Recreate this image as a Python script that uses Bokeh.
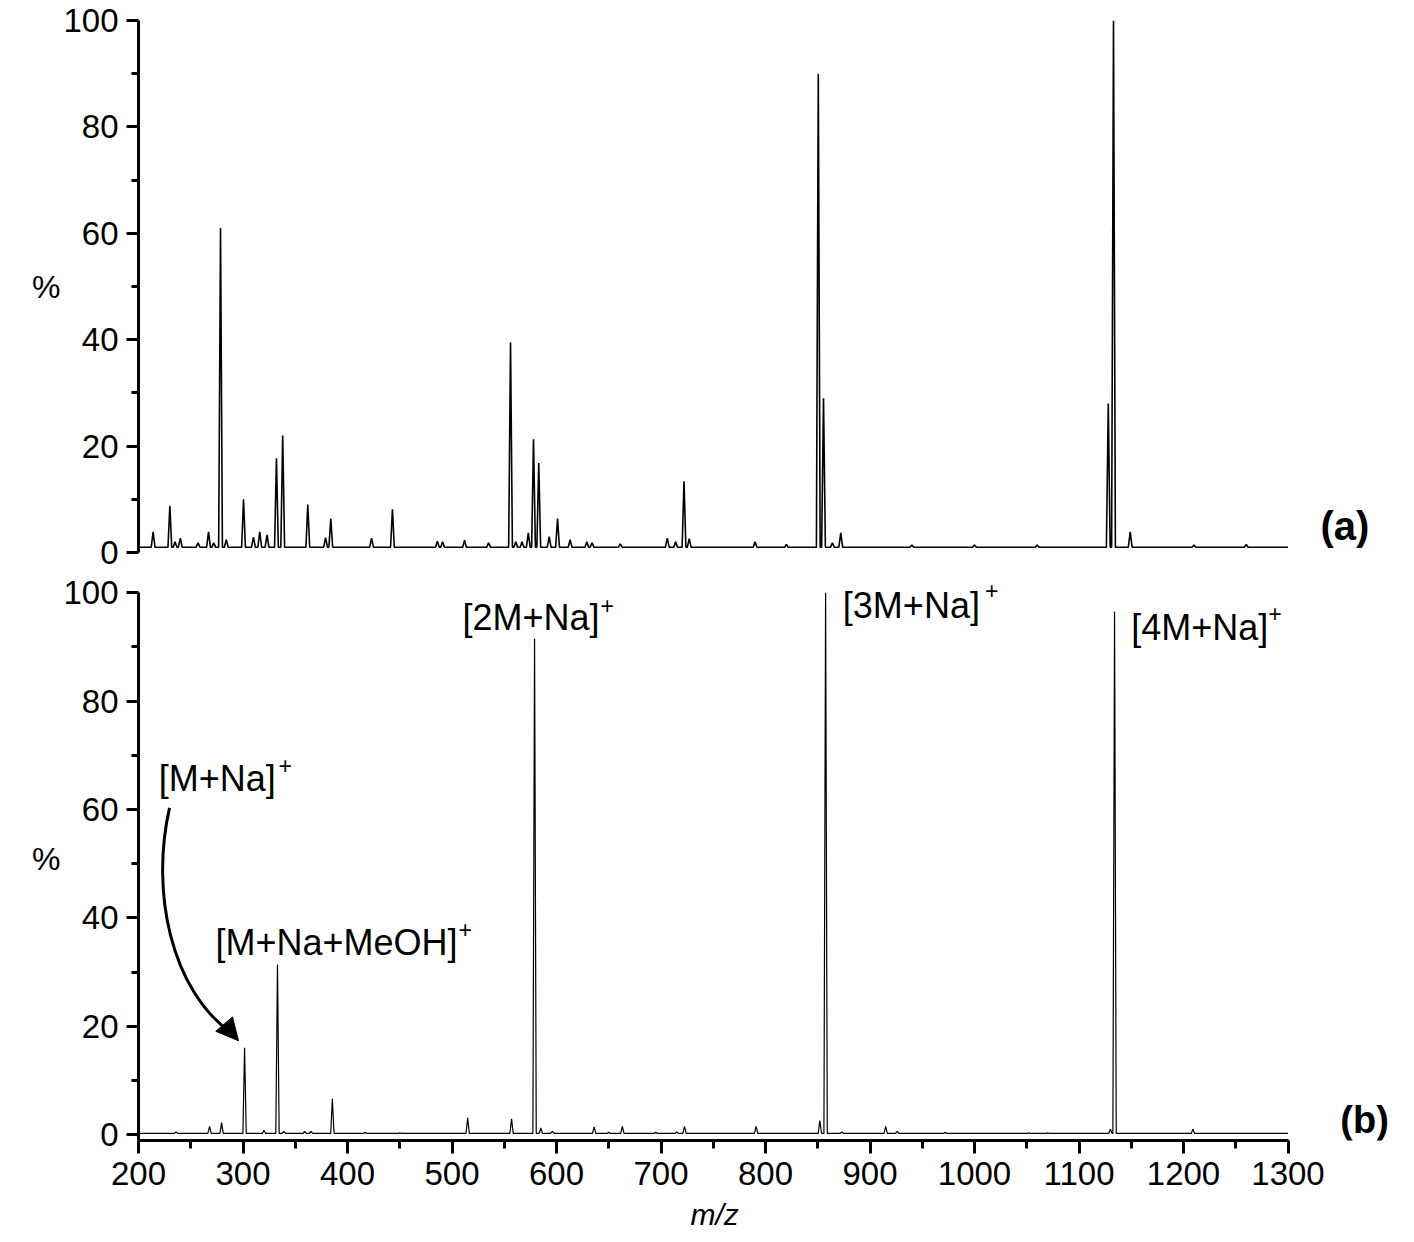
from bokeh.plotting import figure
from bokeh.layouts import column
from bokeh.models import Label, Arrow, NormalHead, FixedTicker, Range1d, Title
from bokeh.embed import file_html
from bokeh.resources import INLINE

FONT = "Liberation Sans"

# ---------------- data ----------------
x_major = [200, 300, 400, 500, 600, 700, 800, 900, 1000, 1100, 1200, 1300]
x_minor = [250, 350, 450, 550, 650, 750, 850, 950, 1050, 1150, 1250]
y_major = [0, 20, 40, 60, 80, 100]
y_minor = [10, 30, 50, 70, 90]

# panel (a): peak m/z and relative intensity (%)
a_mz = [214, 230, 235, 240, 257, 267, 272, 278.5, 284, 300.5, 310, 316, 323, 332, 338,
        362, 379, 384, 423, 443, 486, 491, 512, 535, 556, 561, 567, 573, 578, 583,
        593, 601, 613, 629, 634, 661, 706, 714, 722, 727, 790, 820, 850.5, 855.5,
        864, 872, 940, 1000, 1060, 1128, 1133, 1149, 1210, 1260]
a_int = [3.9, 8.8, 2.0, 2.7, 1.8, 3.9, 1.8, 61.0, 2.4, 10.0, 2.9, 3.9, 3.3, 17.7, 22.0,
         9.0, 2.8, 6.4, 2.7, 8.1, 2.1, 2.0, 2.3, 1.8, 39.5, 2.0, 2.0, 3.7, 21.3, 16.8,
         3.0, 6.4, 2.4, 2.0, 1.8, 1.6, 2.7, 2.0, 13.4, 2.6, 2.0, 1.5, 90.0, 29.0,
         1.8, 3.7, 1.4, 1.4, 1.4, 28.0, 100.0, 3.9, 1.4, 1.5]
a_base = 1.0

# panel (b)
b_mz = [236, 268, 279.5, 301.5, 320, 333, 339, 359, 365, 385.5, 417, 450, 515, 557,
        579, 585, 596, 636, 650, 663, 695, 715, 722.5, 791, 852, 857.5, 873, 915,
        926, 972, 1052, 1070, 1130, 1134, 1209]
b_int = [0.5, 1.5, 2.2, 16.0, 0.8, 31.4, 0.6, 0.6, 0.6, 6.6, 0.4, 0.3, 3.1, 2.9,
         91.5, 1.2, 0.6, 1.4, 0.4, 1.5, 0.4, 0.5, 1.5, 1.5, 2.6, 100.0, 0.5, 1.5,
         0.6, 0.4, 0.3, 0.3, 1.0, 96.5, 1.0]
b_base = 0.2

# annotations: (text, x, y, superscript x, superscript y)
ann_text = ["[2M+Na]", "[3M+Na]", "[4M+Na]", "[M+Na]", "[M+Na+MeOH]"]
ann_x = [510, 874, 1150, 219.4, 273.7]
ann_y = [95.4, 97.6, 93.5, 65.7, 35.4]
sup_x = [642.0, 1010.0, 1281, 334, 506.2]
sup_y = [97.6, 100.4, 96.1, 68.2, 37.8]

# curved arrow (m/z, %)
arr_p0 = (229.7, 60.3)
arr_c0 = (211.5, 45.0)
arr_c1 = (230.6, 26.6)
arr_p1 = (289.9, 18.6)
arr_tip = (295.7, 17.3)

X_LO, X_HI, X_VIEW = 200, 1300, 1417.2


def spectrum(mz, inten, base, w, lo=X_LO, hi=X_HI):
    xs, ys = [lo], [base]
    for m, h in sorted(zip(mz, inten)):
        xs += [m - w, m, m + w]
        ys += [base, h, base]
    xs.append(hi)
    ys.append(base)
    return xs, ys


def style(p, ybounds):
    p.outline_line_color = None
    p.xgrid.visible = False
    p.ygrid.visible = False
    p.background_fill_color = "white"
    p.border_fill_color = "white"
    yax = p.yaxis[0]
    yax.bounds = ybounds
    yax.ticker = FixedTicker(ticks=y_major, minor_ticks=y_minor)
    yax.axis_line_width = 3
    yax.major_tick_line_width = 3
    yax.minor_tick_line_width = 3
    yax.major_tick_out = 12
    yax.major_tick_in = 0
    yax.minor_tick_out = 7
    yax.minor_tick_in = 0
    yax.major_label_text_font = FONT
    yax.major_label_text_font_size = "33px"
    yax.major_label_text_color = "black"
    yax.major_label_standoff = 8
    yax.axis_label = "%"
    yax.axis_label_orientation = "horizontal"
    yax.axis_label_text_font = FONT
    yax.axis_label_text_font_size = "32px"
    yax.axis_label_text_font_style = "normal"
    yax.axis_label_text_color = "black"
    yax.axis_label_standoff = 0


# ---------------- panel (a) ----------------
pa = figure(width=1414, height=572, x_range=Range1d(X_LO, X_VIEW), y_range=Range1d(0, 100),
            output_backend="svg", toolbar_location=None, x_axis_location=None,
            min_border_left=138, min_border_right=4, min_border_top=20,
            min_border_bottom=20)
style(pa, (0, 100))
xa, ya = spectrum(a_mz, a_int, a_base, 1.8)
pa.line(xa, ya, line_color="black", line_width=1.6)
pa.add_layout(Label(x=1331, y=5.0, text="(a)", text_font=FONT, text_font_size="40px",
                    text_font_style="bold", text_baseline="middle", text_align="left",
                    text_color="black"))

# ---------------- panel (b) ----------------
pb = figure(width=1414, height=670, x_range=Range1d(X_LO, X_VIEW), y_range=Range1d(-1.1, 103),
            output_backend="svg", toolbar_location=None,
            min_border_left=138, min_border_right=4, min_border_top=4,
            min_border_bottom=102)
style(pb, (-1.1, 100))
xax = pb.xaxis[0]
xax.bounds = (X_LO, X_HI)
xax.ticker = FixedTicker(ticks=x_major, minor_ticks=x_minor)
xax.axis_line_width = 3
xax.major_tick_line_width = 3
xax.minor_tick_line_width = 3
xax.major_tick_out = 13
xax.major_tick_in = 0
xax.minor_tick_out = 8
xax.minor_tick_in = 0
xax.major_label_text_font = FONT
xax.major_label_text_font_size = "33px"
xax.major_label_text_color = "black"
xax.major_label_standoff = 8

pb.add_layout(Title(text="m/z", align="left", offset=552, text_font=FONT,
                    text_font_size="30px", text_font_style="italic", text_color="black",
                    standoff=16), "below")

xb, yb = spectrum(b_mz, b_int, b_base, 1.6)
pb.line(xb, yb, line_color="black", line_width=1.2)

for t, x, y, sx, sy in zip(ann_text, ann_x, ann_y, sup_x, sup_y):
    pb.add_layout(Label(x=x, y=y, text=t, text_font=FONT, text_font_size="36px",
                        text_baseline="middle", text_align="left", text_color="black"))
    pb.add_layout(Label(x=sx, y=sy, text="+", text_font=FONT, text_font_size="23px",
                        text_baseline="middle", text_align="left", text_color="black"))

pb.bezier(x0=[arr_p0[0]], y0=[arr_p0[1]], x1=[arr_p1[0]], y1=[arr_p1[1]],
          cx0=[arr_c0[0]], cy0=[arr_c0[1]], cx1=[arr_c1[0]], cy1=[arr_c1[1]],
          line_color="black", line_width=3)
pb.add_layout(Arrow(end=NormalHead(size=22, fill_color="black", line_color="black"),
                    x_start=arr_p1[0], y_start=arr_p1[1], x_end=arr_tip[0], y_end=arr_tip[1],
                    line_width=3, line_color="black"))

pb.add_layout(Label(x=1350, y=2.7, text="(b)", text_font=FONT, text_font_size="38px",
                    text_font_style="bold", text_baseline="middle", text_align="left",
                    text_color="black"))

layout = column(pa, pb, spacing=0)
open("out.html", "w").write(file_html(layout, INLINE))
